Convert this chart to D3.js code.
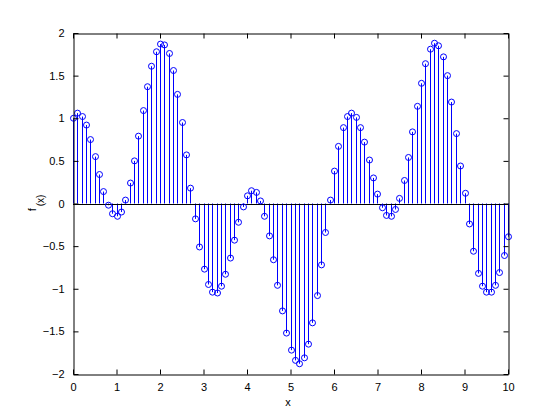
<!DOCTYPE html>
<html><head><meta charset="utf-8">
<script src="https://cdn.jsdelivr.net/npm/d3@7"></script>
<style>body{margin:0;background:#fff}svg{display:block}</style>
</head><body>
<script>
const xValues = [0.0,0.1,0.2,0.3,0.4,0.5,0.6,0.7,0.8,0.9,1.0,1.1,1.2,1.3,1.4,1.5,1.6,1.7,1.8,1.9,2.0,2.1,2.2,2.3,2.4,2.5,2.6,2.7,2.8,2.9,3.0,3.1,3.2,3.3,3.4,3.5,3.6,3.7,3.8,3.9,4.0,4.1,4.2,4.3,4.4,4.5,4.6,4.7,4.8,4.9,5.0,5.1,5.2,5.3,5.4,5.5,5.6,5.7,5.8,5.9,6.0,6.1,6.2,6.3,6.4,6.5,6.6,6.7,6.8,6.9,7.0,7.1,7.2,7.3,7.4,7.5,7.6,7.7,7.8,7.9,8.0,8.1,8.2,8.3,8.4,8.5,8.6,8.7,8.8,8.9,9.0,9.1,9.2,9.3,9.4,9.5,9.6,9.7,9.8,9.9,10.0];
const yValues = [1.00,1.06,1.02,0.92,0.75,0.55,0.34,0.14,-0.02,-0.12,-0.15,-0.10,0.04,0.24,0.50,0.79,1.09,1.37,1.61,1.78,1.87,1.86,1.76,1.56,1.28,0.95,0.57,0.18,-0.18,-0.51,-0.77,-0.95,-1.04,-1.05,-0.97,-0.83,-0.64,-0.43,-0.22,-0.04,0.09,0.15,0.13,0.03,-0.15,-0.38,-0.66,-0.96,-1.26,-1.52,-1.72,-1.84,-1.88,-1.81,-1.65,-1.40,-1.08,-0.72,-0.34,0.04,0.38,0.67,0.89,1.02,1.06,1.01,0.89,0.72,0.51,0.30,0.11,-0.05,-0.14,-0.15,-0.07,0.06,0.27,0.54,0.84,1.14,1.41,1.64,1.81,1.88,1.85,1.72,1.50,1.19,0.82,0.44,0.12,-0.24,-0.56,-0.82,-0.97,-1.04,-1.04,-0.96,-0.81,-0.61,-0.39];
const xTicks = [0,1,2,3,4,5,6,7,8,9,10];
const yTicks = [-2,-1.5,-1,-0.5,0,0.5,1,1.5,2];

const W = 560, H = 420;
const L = 73, R = 508, T = 33, B = 374;
const svg = d3.select("body").append("svg").attr("width", W).attr("height", H)
  .style("font-family", "Helvetica, Arial, 'Liberation Sans', sans-serif");

const x = d3.scaleLinear().domain([0, 10]).range([L, R]);
const y = d3.scaleLinear().domain([-2, 2]).range([B, T]);
const blue = "#0000ff";

// stems
const data = xValues.map((v, i) => ({x: v, y: yValues[i]}));
svg.append("g").selectAll("line").data(data).join("line")
  .attr("x1", d => Math.round(x(d.x)) + 0.5).attr("x2", d => Math.round(x(d.x)) + 0.5)
  .attr("y1", y(0)).attr("y2", d => y(d.y))
  .attr("stroke", blue).attr("stroke-width", 1);

// baseline
svg.append("line").attr("x1", L).attr("x2", R).attr("y1", Math.round(y(0)) + 0.5).attr("y2", Math.round(y(0)) + 0.5)
  .attr("stroke", "#000").attr("stroke-width", 1);

// markers
svg.append("g").selectAll("circle").data(data).join("circle")
  .attr("cx", d => Math.round(x(d.x)) + 0.5).attr("cy", d => y(d.y)).attr("r", 3)
  .attr("fill", "none").attr("stroke", blue).attr("stroke-width", 1);

// axes
const tickLen = 5;
const axB = svg.append("g").attr("transform", `translate(0,${B + 0.5})`)
  .call(d3.axisBottom(x).tickValues(xTicks).tickSizeInner(-tickLen).tickSizeOuter(0).tickPadding(9).tickFormat(d3.format("d")));
const axT = svg.append("g").attr("transform", `translate(0,${T + 0.5})`)
  .call(d3.axisTop(x).tickValues(xTicks).tickSizeInner(-tickLen).tickSizeOuter(0).tickFormat(""));
const axL = svg.append("g").attr("transform", `translate(${L + 0.5},0)`)
  .call(d3.axisLeft(y).tickValues(yTicks).tickSizeInner(-tickLen).tickSizeOuter(0).tickPadding(9).tickFormat(d => d3.format("")(d)));
const axR = svg.append("g").attr("transform", `translate(${R + 0.5},0)`)
  .call(d3.axisRight(y).tickValues(yTicks).tickSizeInner(-tickLen).tickSizeOuter(0).tickFormat(""));
[axB, axT, axL, axR].forEach(a => {
  a.selectAll("path").attr("stroke", "#000");
  a.selectAll("line").attr("stroke", "#000");
  a.selectAll("text").attr("fill", "#000").style("font-size", "11px")
    .style("font-family", "Helvetica, Arial, 'Liberation Sans', sans-serif");
});

// labels
svg.append("text").attr("x", 288).attr("y", 406).attr("text-anchor", "middle")
  .style("font-size", "11px").text("x");
const yl = svg.append("text").attr("transform", `translate(36,203) rotate(-90)`)
  .attr("text-anchor", "middle").style("font-size", "11px");
yl.append("tspan").text("f");
yl.append("tspan").attr("dy", 8).attr("dx", 2).style("font-size", "10px").text("(x)");
</script>
</body></html>
